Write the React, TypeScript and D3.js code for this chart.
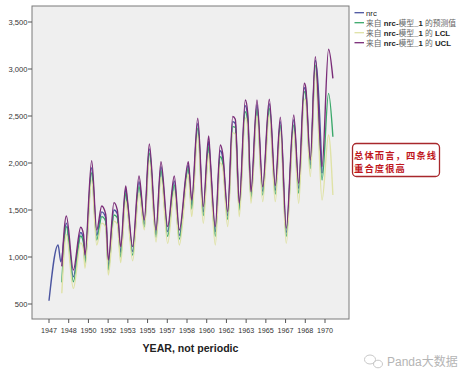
import React from "react";
import * as d3 from "d3";

const xTickMonths = [0, 20, 40, 60, 80, 100, 120, 140, 160, 180, 200, 220, 240, 260, 280];
const xTickLabels = ["1947", "1948", "1950", "1952", "1953", "1955", "1957", "1958", "1960", "1962", "1963", "1965", "1967", "1968", "1970"];
const yTicks = [500, 1000, 1500, 2000, 2500, 3000, 3500];

const nrcMonths = [0, 9.2, 12, 17.6, 24.7, 32.2, 35, 36.5, 43.3, 48.4, 53.5, 57.5, 60.2, 65.9, 69.3, 72.7, 77.8, 79.4, 84.9, 91.3, 96.7, 101.8, 108.6, 113.6, 120.4, 127.1, 132.2, 141.3, 144.8, 150.9, 156.5, 162, 163.6, 168.7, 173.8, 176.2, 181.3, 186.4, 189, 193, 199.2, 201.6, 204.9, 211, 216.8, 223.5, 229.6, 234.7, 240.7, 248.3, 253.3, 259, 260.5, 265.1, 270.2, 277];
const nrcValues = [535, 1128, 950, 1360, 790, 1260, 1190, 960, 1950, 1230, 1480, 1420, 900, 1500, 1460, 1050, 1720, 1590, 1060, 1800, 1350, 2150, 1240, 1960, 1270, 1810, 1230, 1980, 1550, 2420, 1480, 2230, 2000, 1270, 2130, 2060, 1440, 2440, 2420, 1530, 2610, 2480, 1650, 2620, 1700, 2630, 1710, 2440, 1260, 2460, 1730, 2800, 2760, 1980, 3090, 1890];

const modelMonths = [13, 17.6, 24.7, 32.2, 35, 36.5, 43.3, 48.4, 53.5, 57.5, 60.2, 65.9, 69.3, 72.7, 77.8, 79.4, 84.9, 91.3, 96.7, 101.8, 108.6, 113.6, 120.4, 127.1, 132.2, 141.3, 144.8, 150.9, 156.5, 162, 163.6, 168.7, 173.8, 176.2, 181.3, 186.4, 189, 193, 199.2, 201.6, 204.9, 211, 216.8, 223.5, 229.6, 234.7, 240.7, 248.3, 253.3, 259, 260.5, 265.1, 270.2, 277, 283.6, 288];
const predValues = [730, 1323, 737, 1223, 1150, 933, 1897, 1181, 1429, 1380, 862, 1447, 1420, 1000, 1678, 1560, 1020, 1748, 1320, 2103, 1210, 1917, 1220, 1766, 1190, 1943, 1510, 2369, 1440, 2174, 1960, 1220, 2067, 2010, 1400, 2387, 2380, 1500, 2546, 2440, 1620, 2570, 1660, 2580, 1670, 2400, 1220, 2405, 1680, 2759, 2720, 1940, 3043, 1819, 2741, 2280];
const lclValues = [614, 1240, 666, 1150, 1080, 880, 1820, 1128, 1360, 1320, 808, 1380, 1350, 940, 1600, 1500, 960, 1680, 1290, 2030, 1160, 1850, 1145, 1700, 1128, 1880, 1429, 2300, 1359, 2100, 1900, 1128, 2000, 1950, 1323, 2320, 2310, 1429, 2480, 2380, 1571, 2500, 1589, 2510, 1589, 2330, 1145, 2340, 1571, 2680, 2650, 1855, 2960, 1606, 2298, 1660];
const uclValues = [900, 1436, 862, 1316, 1240, 1021, 2025, 1287, 1543, 1457, 968, 1578, 1500, 1110, 1755, 1625, 1110, 1862, 1394, 2202, 1287, 2014, 1323, 1862, 1287, 2014, 1606, 2476, 1536, 2287, 2040, 1323, 2191, 2103, 1482, 2494, 2466, 1571, 2670, 2529, 1695, 2670, 1748, 2678, 1760, 2486, 1305, 2511, 1784, 2848, 2800, 2032, 3131, 1961, 3210, 2901];

const seriesNames = ["nrc", "来自 nrc-模型_1 的预测值", "来自 nrc-模型_1 的 LCL", "来自 nrc-模型_1 的 UCL"];
const seriesColors = ["#4b55a0", "#3aa86a", "#dfe2a6", "#7a2c78"];

const FONT = "'Liberation Sans', Arial, 'Noto Sans CJK SC', sans-serif";

export default function App() {
  const frame = { left: 32, top: 6, right: 349, bottom: 319 };
  const x = d3.scaleLinear().domain([0, 280]).range([49, 325]);
  const y = d3.scaleLinear().domain([500, 3500]).range([304, 22]);

  const line = d3
    .line<[number, number]>()
    .x((d) => x(d[0]))
    .y((d) => y(d[1]))
    .curve(d3.curveMonotoneX);

  const zip = (ms: number[], vs: number[]) => ms.map((m, i) => [m, vs[i]] as [number, number]);
  const paths = [
    zip(nrcMonths, nrcValues),
    zip(modelMonths, predValues),
    zip(modelMonths, lclValues),
    zip(modelMonths, uclValues),
  ];

  const legendY = [12.7, 22.7, 32.7, 42.7];

  const renderLegendText = (name: string) => {
    if (name === "nrc") return <tspan fill="#222">nrc</tspan>;
    const suffix = name.split("_1")[1];
    const m = suffix.match(/(LCL|UCL)/);
    return (
      <>
        <tspan fill="#666">来自 </tspan>
        <tspan fill="#222" fontWeight="bold">nrc-</tspan>
        <tspan fill="#666">模型</tspan>
        <tspan fill="#222" fontWeight="bold">_1</tspan>
        <tspan fill="#666">{suffix.replace(/(LCL|UCL)/, "")}</tspan>
        {m && (
          <tspan fill="#222" fontWeight="bold">{m[0]}</tspan>
        )}
      </>
    );
  };

  return (
    <svg width={474} height={382} style={{ position: "absolute", left: 0, top: 0, background: "#fff" }} fontFamily={FONT}>
      <rect x={0} y={0} width={474} height={382} fill="#fff" />
      <rect
        x={frame.left}
        y={frame.top}
        width={frame.right - frame.left}
        height={frame.bottom - frame.top}
        fill="#efefef"
        stroke="#7a7a7a"
        strokeWidth={1}
      />
      {/* y axis */}
      {yTicks.map((t) => (
        <g key={t}>
          <line x1={28} x2={frame.left} y1={y(t)} y2={y(t)} stroke="#555" strokeWidth={1} />
          <text x={27.5} y={y(t) + 2.6} fontSize={7.6} textAnchor="end" fill="#333">
            {d3.format(",")(t)}
          </text>
        </g>
      ))}
      {/* x axis */}
      {xTickMonths.map((m, i) => (
        <g key={m}>
          <line x1={x(m)} x2={x(m)} y1={frame.bottom} y2={frame.bottom + 4} stroke="#555" strokeWidth={1} />
          <text x={x(m)} y={333.4} fontSize={7.2} textAnchor="middle" fill="#333">
            {xTickLabels[i]}
          </text>
        </g>
      ))}
      <text x={190.5} y={351.8} fontSize={10.6} fontWeight="bold" textAnchor="middle" fill="#222">
        YEAR, not periodic
      </text>
      {/* series */}
      <g clipPath="url(#plotClip)">
        {paths.map((p, i) => (
          <path key={i} d={line(p) || ""} fill="none" stroke={seriesColors[i]} strokeWidth={1.4} strokeLinejoin="round" />
        ))}
      </g>
      <defs>
        <clipPath id="plotClip">
          <rect x={frame.left} y={frame.top} width={frame.right - frame.left} height={frame.bottom - frame.top} />
        </clipPath>
      </defs>
      {/* legend */}
      {seriesNames.map((n, i) => (
        <g key={n}>
          <line x1={354.5} x2={364} y1={legendY[i]} y2={legendY[i]} stroke={seriesColors[i]} strokeWidth={1.3} />
          <text x={366} y={legendY[i] + 2.8} fontSize={7.8}>
            {renderLegendText(n)}
          </text>
        </g>
      ))}
      {/* annotation */}
      <rect x={352.5} y={143.5} width={87} height={33} rx={4} fill="#fff" stroke="#a8282c" strokeWidth={1.3} />
      <text x={354} y={158.6} fontSize={9.3} letterSpacing={1.1} fontWeight="bold" fill="#c0161c" fontFamily="'Noto Sans CJK SC', sans-serif">
        总体而言，四条线
      </text>
      <text x={354} y={172.2} fontSize={9.3} letterSpacing={1.1} fontWeight="bold" fill="#c0161c" fontFamily="'Noto Sans CJK SC', sans-serif">
        重合度很高
      </text>
      {/* watermark */}
      <g stroke="#c8c8c8" fill="none" strokeWidth={1}>
        <ellipse cx={370} cy={359.5} rx={5.5} ry={4.5} />
        <ellipse cx={378} cy={364} rx={4.5} ry={3.8} />
      </g>
      <text x={387} y={366} fontSize={12} fill="#b5b5b5" fontFamily="'Liberation Sans', 'Noto Sans CJK SC', sans-serif">
        Panda大数据
      </text>
    </svg>
  );
}
